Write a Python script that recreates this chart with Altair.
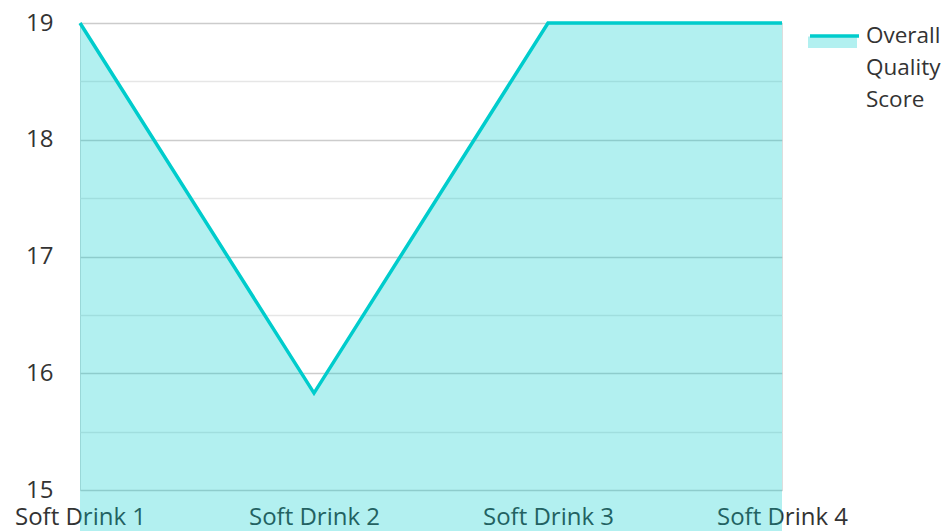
import altair as alt
import pandas as pd

categories = ["Soft Drink 1", "Soft Drink 2", "Soft Drink 3", "Soft Drink 4"]
scores = [19, 15.83, 19, 19]
series_name = "Overall Quality Score"
legend_lines = ["Overall", "Quality", "Score"]
y_ticks = [15, 15.5, 16, 16.5, 17, 17.5, 18, 18.5, 19]

df = pd.DataFrame({"drink": categories, "score": scores, "series": [series_name] * len(categories)})

FONT = "Open Sans"
TEXT = "#333333"
TEAL = "#00cccc"
FS = 24

x_enc = alt.X(
    "drink:N",
    sort=categories,
    scale=alt.Scale(type="point", padding=0),
    axis=alt.Axis(title=None, labelAngle=0, domain=False, ticks=False, grid=False,
                  labelFontSize=FS, labelPadding=15, labelColor=TEXT, labelFont=FONT),
)

y_enc = alt.Y(
    "score:Q",
    scale=alt.Scale(domain=[15, 19], nice=False, zero=False),
    axis=alt.Axis(title=None, values=y_ticks, domain=False, ticks=False,
                  labelExpr="datum.value % 1 === 0 ? format(datum.value, 'd') : ''",
                  gridColor={"expr": "datum.value % 1 === 0 ? '#cccccc' : '#e6e6e6'"},
                  gridWidth=1.5,
                  labelFontSize=FS, labelPadding=27, labelColor=TEXT, labelFont=FONT),
)

LX, LY = 728, 2

area = alt.Chart(df).mark_area(fillOpacity=0.3).encode(
    x=x_enc,
    y=y_enc,
    fill=alt.Fill("series:N", scale=alt.Scale(range=[TEAL]),
                  legend=alt.Legend(title=None, orient="none", legendX=LX, legendY=LY,
                                    symbolType="M-1,-0.53H1V-0.06H-1Z", symbolSize=2401,
                                    symbolOpacity=0.3, symbolStrokeWidth=0,
                                    labelExpr="''", labelOffset=0, padding=0)),
)

line = alt.Chart(df).mark_line(strokeWidth=3.5).encode(
    x=x_enc,
    y=y_enc,
    stroke=alt.Stroke("series:N", scale=alt.Scale(range=[TEAL]),
                      legend=alt.Legend(title=legend_lines, orient="none", legendX=LX, legendY=LY,
                                        titleOrient="right", titleAnchor="start",
                                        titleBaseline="top", titleAlign="left",
                                        titleFontSize=22.5, titleFont=FONT, titleColor=TEXT,
                                        titleFontWeight="normal", titleLineHeight=32,
                                        titlePadding=0, titleLimit=300,
                                        symbolType="M-1,-0.63H1", symbolSize=2401,
                                        symbolStrokeWidth=3.5,
                                        labelExpr="''", labelOffset=0, padding=0)),
)

chart = (
    alt.layer(area, line)
    .resolve_legend(fill="independent", stroke="independent")
    .properties(
        width=702,
        height=467,
        autosize=alt.AutoSizeParams(type="none"),
        padding={"left": 72, "top": 15, "right": 162, "bottom": 41},
    )
    .configure_view(stroke=None)
    .configure(font=FONT)
)

chart.save("out.html", embed_options={"renderer": "svg", "actions": False})
